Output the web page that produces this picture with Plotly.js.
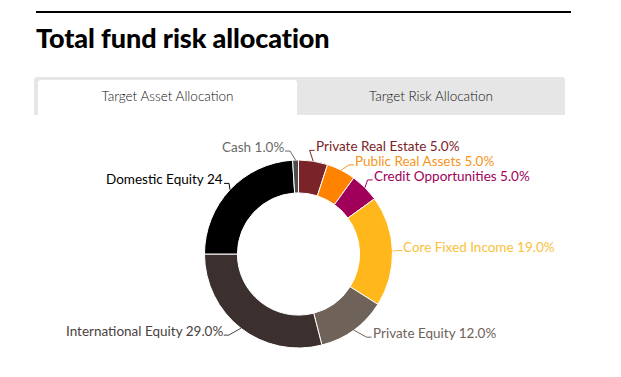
<!DOCTYPE html>
<html>
<head>
<meta charset="utf-8">
<script src="https://cdn.plot.ly/plotly-3.0.1.min.js"></script>
<style>
  html, body { margin:0; padding:0; width:621px; height:377px; overflow:hidden; background:#fff; font-family: Lato, "Open Sans", sans-serif; }
  #rule { position:absolute; left:36px; top:11px; width:535px; height:2px; background:#000; }
  #title { position:absolute; left:36px; top:21px; font-family: Lato, sans-serif; font-weight:900; font-size:27px; color:#000; letter-spacing:-0.1px; }
  #tabs { position:absolute; left:34px; top:77px; width:531px; height:38px; background:#e6e6e6; border-radius:3px 3px 0 0; }
  .tab { position:absolute; top:3px; height:35px; line-height:33px; text-align:center; font-size:13.5px; font-weight:300; color:#111; font-family: Lato, sans-serif; }
  #tab1 { left:4px; width:259px; background:#fff; border-radius:3px 3px 0 0; }
  #tab2 { left:263px; width:268px; }
  #chart { position:absolute; left:0; top:0; width:621px; height:377px; }
</style>
</head>
<body>
<div id="chart"></div>
<div id="rule"></div>
<div id="title">Total fund risk allocation</div>
<div id="tabs">
  <div class="tab" id="tab1">Target Asset Allocation</div>
  <div class="tab" id="tab2">Target Risk Allocation</div>
</div>
<script>
// Data (clockwise from 12 o'clock)
const categories = ["Private Real Estate", "Public Real Assets", "Credit Opportunities", "Core Fixed Income", "Private Equity", "International Equity", "Domestic Equity", "Cash"];
const values = [5.0, 5.0, 5.0, 19.0, 12.0, 29.0, 24.0, 1.0];
const labelTexts = ["Private Real Estate 5.0%", "Public Real Assets 5.0%", "Credit Opportunities 5.0%", "Core Fixed Income 19.0%", "Private Equity 12.0%", "International Equity 29.0%", "Domestic Equity 24", "Cash 1.0%"];

// Styles
const sliceColors = ["#7a2328", "#ff8200", "#a0005a", "#ffb71b", "#6f6259", "#3b302d", "#000000", "#4d4d4d"];
const textColors = ["#7a2328", "#f7941d", "#a0005a", "#f9c13a", "#6f6259", "#4a4240", "#000000", "#6a6a6a"];
const labelNudge = [[0,0],[7,4],[-2,-1],[-4,-4],[10,-9],[-9,-9],[4,0],[-11,2]];

const W = 621, H = 377;
const cx = 298.5, cy = 254, R = 94;
const dist = 15;

const trace = {
  type: 'pie',
  labels: categories,
  values: values,
  sort: false,
  direction: 'clockwise',
  rotation: 0,
  hole: 0.65,
  textinfo: 'none',
  hoverinfo: 'label+percent',
  marker: { colors: sliceColors, line: { color: '#ffffff', width: 1 } },
  domain: { x: [(cx - R) / W, (cx + R) / W], y: [1 - (cy + R) / H, 1 - (cy - R) / H] },
  showlegend: false
};

const total = values.reduce((a, b) => a + b, 0);
const annotations = [];
const shapes = [];
let cum = 0;
values.forEach((v, i) => {
  const mid = (cum + v / 2) / total * 2 * Math.PI;
  cum += v;
  const dx = Math.sin(mid), dy = -Math.cos(mid);
  const ex = cx + R * dx, ey = cy + R * dy;
  const tx = cx + (R + dist) * dx + labelNudge[i][0];
  const ty = cy + (R + dist) * dy + labelNudge[i][1];
  const right = dx >= 0;
  const s = right ? 1 : -1;
  annotations.push({
    xref: 'paper', yref: 'paper',
    x: (tx - s * 2) / W, y: 1 - ty / H,
    text: labelTexts[i],
    showarrow: false,
    xanchor: right ? 'left' : 'right',
    yanchor: 'middle',
    font: { family: 'Lato, "Open Sans", sans-serif', size: 13.5, color: textColors[i] }
  });
  const px = (x) => x / W, py = (y) => 1 - y / H;
  const ex2 = tx - s * 6, ey2 = ty + 4;
  shapes.push({
    type: 'path', xref: 'paper', yref: 'paper',
    path: `M ${px(ex)} ${py(ey)} L ${px(ex2)} ${py(ey2)} L ${px(tx - s * 1)} ${py(ey2)}`,
    line: { color: textColors[i], width: 1 }
  });
});

const layout = {
  width: W, height: H,
  margin: { l: 0, r: 0, t: 0, b: 0 },
  paper_bgcolor: 'rgba(0,0,0,0)',
  plot_bgcolor: 'rgba(0,0,0,0)',
  annotations: annotations,
  shapes: shapes
};

Plotly.newPlot('chart', [trace], layout, { displayModeBar: false, staticPlot: true });
</script>
</body>
</html>
